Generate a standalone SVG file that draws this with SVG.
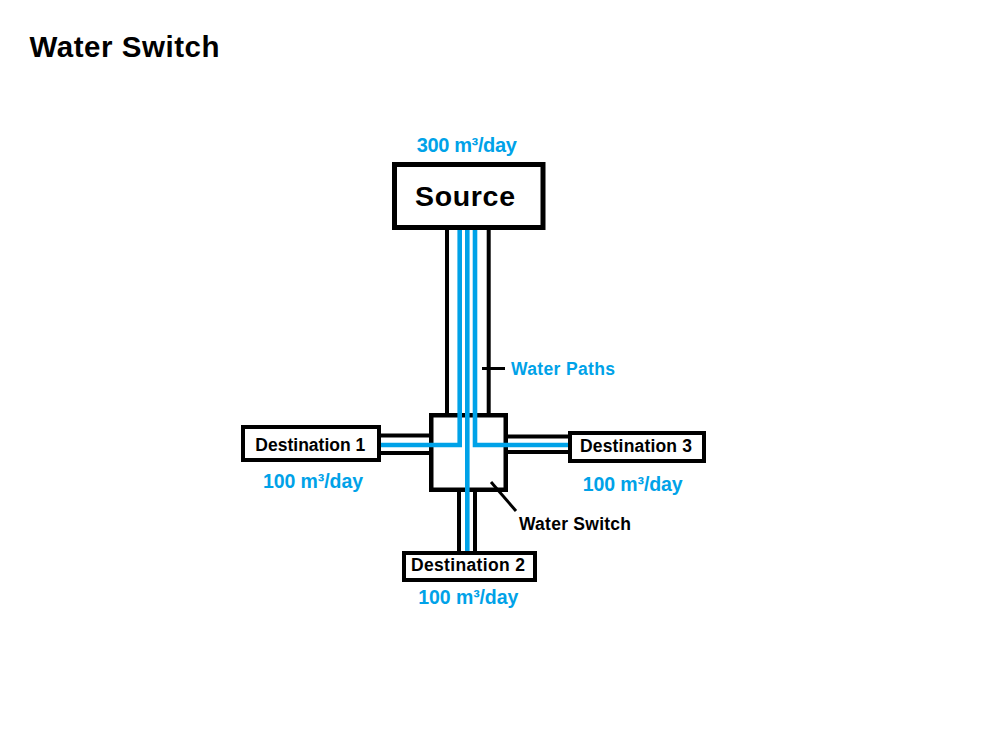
<svg xmlns="http://www.w3.org/2000/svg" width="1000" height="750" viewBox="0 0 1000 750">
  <style>
    .box { fill: #ffffff; stroke: #000000; }
    .pipe { stroke: #000000; stroke-width: 4; fill: none; }
    .flow { stroke: #00A2E8; stroke-width: 4.6; fill: none; stroke-linejoin: miter; stroke-linecap: butt; }
    .lead { stroke: #000000; stroke-width: 3; fill: none; }
    text { font-family: "Liberation Sans", Arial, sans-serif; font-weight: bold; }
    .blue { fill: #00A2E8; }
    .black { fill: #000000; }
  </style>
  <rect x="0" y="0" width="1000" height="750" fill="#ffffff"/>

  <text x="29.5" y="57.3" font-size="29.5" class="black" textLength="190" lengthAdjust="spacing">Water Switch</text>

  <g id="connectors">
    <line class="pipe" x1="447" y1="230" x2="447" y2="414"/>
    <line class="pipe" x1="488.7" y1="230" x2="488.7" y2="414"/>
    <line class="pipe" x1="381" y1="435.5" x2="430" y2="435.5"/>
    <line class="pipe" x1="381" y1="453" x2="430" y2="453"/>
    <line class="pipe" x1="507" y1="436.5" x2="569" y2="436.5"/>
    <line class="pipe" x1="507" y1="452" x2="569" y2="452"/>
    <line class="pipe" x1="459" y1="491" x2="459" y2="552"/>
    <line class="pipe" x1="475" y1="491" x2="475" y2="552"/>
  </g>

  <g id="source">
    <rect class="box" x="394.5" y="164.5" width="148.5" height="63" stroke-width="5"/>
    <text x="465" y="206" font-size="28.5" text-anchor="middle" class="black" textLength="100" lengthAdjust="spacing">Source</text>
    <text x="466.8" y="151.5" font-size="20" text-anchor="middle" class="blue" textLength="100" lengthAdjust="spacing">300 m³/day</text>
  </g>

  <g id="switch">
    <rect class="box" x="431.25" y="415.25" width="74.5" height="74.5" stroke-width="4.5"/>
  </g>

  <g id="destination1">
    <rect class="box" x="243" y="427" width="136" height="33" stroke-width="4"/>
    <text x="310.3" y="451" font-size="17.5" text-anchor="middle" class="black" textLength="110" lengthAdjust="spacing">Destination 1</text>
    <text x="313" y="488" font-size="19.5" text-anchor="middle" class="blue" textLength="100" lengthAdjust="spacing">100 m³/day</text>
  </g>

  <g id="destination2">
    <rect class="box" x="404" y="553" width="131" height="27" stroke-width="4"/>
    <text x="468" y="570.5" font-size="17.5" text-anchor="middle" class="black" textLength="114" lengthAdjust="spacing">Destination 2</text>
    <text x="468.3" y="604" font-size="19.5" text-anchor="middle" class="blue" textLength="100" lengthAdjust="spacing">100 m³/day</text>
  </g>

  <g id="destination3">
    <rect class="box" x="570" y="433" width="134" height="28" stroke-width="4"/>
    <text x="636" y="451.5" font-size="17.5" text-anchor="middle" class="black" textLength="112" lengthAdjust="spacing">Destination 3</text>
    <text x="632.7" y="490.5" font-size="19.5" text-anchor="middle" class="blue" textLength="100" lengthAdjust="spacing">100 m³/day</text>
  </g>

  <g id="water-paths">
    <path class="flow" d="M459.7 230 V445 H381"/>
    <path class="flow" d="M467.3 230 V551"/>
    <path class="flow" d="M475 230 V445 H568"/>
  </g>

  <g id="labels">
    <line class="lead" x1="482" y1="368.5" x2="505" y2="368.5"/>
    <text x="511" y="374.5" font-size="17.5" class="blue" textLength="104" lengthAdjust="spacing">Water Paths</text>
    <line class="lead" x1="491" y1="482" x2="516" y2="511"/>
    <text x="519" y="529.5" font-size="17.5" class="black" textLength="112" lengthAdjust="spacing">Water Switch</text>
  </g>
</svg>
